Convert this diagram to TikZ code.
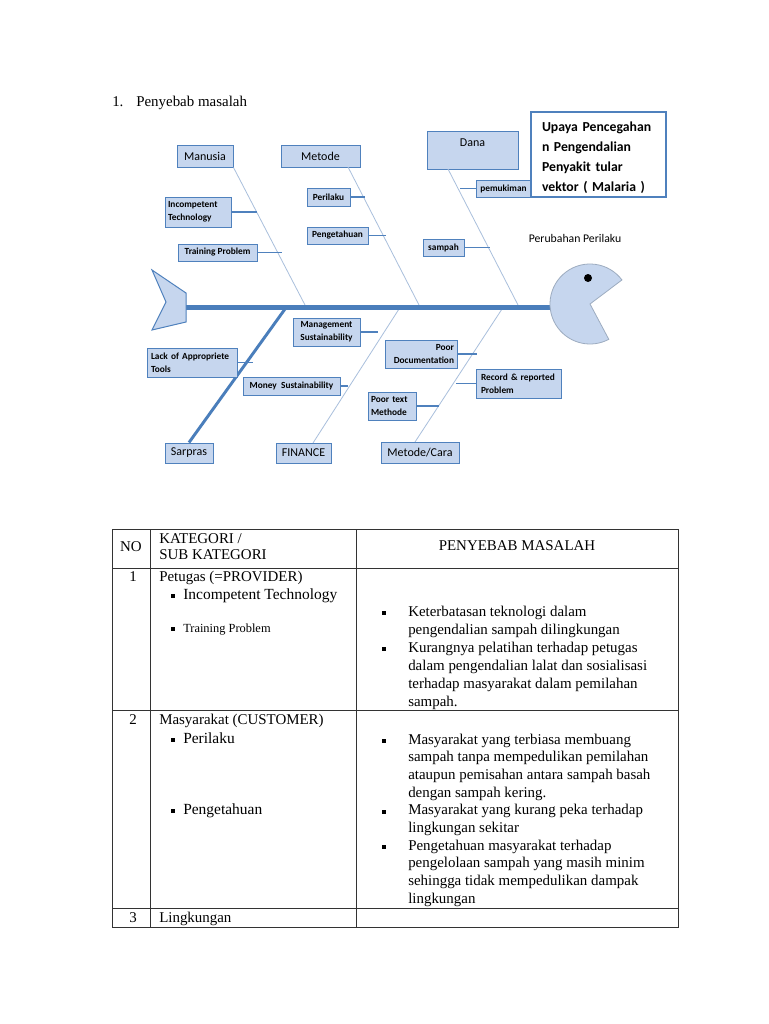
\documentclass[tikz,border=0pt]{standalone}
\usepackage{fontspec}
\setmainfont{Liberation Serif}
\newfontfamily\calfont{Carlito}
\newdimen\pxu \pxu=0.75pt
\definecolor{boxfill}{HTML}{C6D6EE}
\definecolor{boxline}{HTML}{4F81BD}
\definecolor{bonecol}{HTML}{A9BFDC}
\definecolor{spinecol}{HTML}{4A7EBB}
\definecolor{tabline}{HTML}{333333}
\begin{document}
\begin{tikzpicture}[x=0.75pt,y=-0.75pt,
  box/.style={draw=boxline, fill=boxfill, line width=0.75pt, inner sep=0pt, align=center,
    font=\calfont\fontsize{7}{9.75}\selectfont\bfseries},
  catbox/.style={box, font=\calfont\fontsize{9}{11}\selectfont},
  bonethin/.style={draw=bonecol, line width=0.6pt},
  subbone/.style={draw=boxline, line width=1.1pt},
  tt/.style={anchor=base west, inner sep=0pt, font=\fontsize{11.2}{13}\selectfont},
  ttb/.style={tt, font=\fontsize{11.6}{13}\selectfont},
  ttc/.style={tt, anchor=base},
  tabrule/.style={draw=tabline, line width=0.6pt},
  bul/.style={fill=black}
]
\useasboundingbox (0,0) rectangle (768,1024);
\fill[white] (0,0) rectangle (768,1024);

% title
\node[tt] (tnum) at (112,107) {1.};
\node[tt] (title) at (136,107) {Penyebab masalah};

% spine coordinates
\coordinate (tailend) at (186,307);
\coordinate (head) at (590,304);
\coordinate (spineend) at (552,307);
\coordinate (sManusia) at (305,305);
\coordinate (sMetode) at (419,305);
\coordinate (sDana) at (518,305);
\coordinate (sSarpras) at (285,309);
\coordinate (sFinance) at (399,309);
\coordinate (sCara) at (502,309);

% category boxes
\node[catbox, minimum width=56\pxu, minimum height=22\pxu] (manusia) at (205,156) {Manusia};
\node[catbox, minimum width=79\pxu, minimum height=22\pxu] (metode) at (320.5,156) {Metode};
\node[catbox, minimum width=91\pxu, minimum height=38\pxu,
  label={[anchor=north, inner sep=0pt, yshift=-8\pxu, font=\calfont\fontsize{9}{11}\selectfont]north:Dana}] (dana) at (472.5,150) {};
\node[catbox, minimum width=48\pxu, minimum height=20\pxu] (sarpras) at (189,453) {Sarpras};
\node[catbox, minimum width=55\pxu, minimum height=20\pxu] (finance) at (303.5,453) {FINANCE};
\node[catbox, minimum width=78\pxu, minimum height=21\pxu] (metcara) at (420,452.5) {Metode/Cara};

% bone start points
\coordinate (bMetode) at (348,167);
\coordinate (bDana) at (448,169);
\coordinate (bFinance) at (313,443);
\coordinate (bCara) at (415,442);

% thin bones
\draw[bonethin] (manusia.south east) -- (sManusia);
\draw[bonethin] (bMetode) -- (sMetode);
\draw[bonethin] (bDana) -- (sDana);
\draw[bonethin] (bFinance) -- (sFinance);
\draw[bonethin] (bCara) -- (sCara);
% thick Sarpras bone
\draw[draw=spinecol, line width=2.2pt] (sarpras.north) -- (sSarpras);

% spine
\draw[draw=spinecol, line width=3.75pt] (tailend) -- (spineend);

% tail
\filldraw[fill=boxfill, draw=boxline, line width=0.75pt]
  (152,270) -- (186,293) -- (186,322) -- (152,330) -- (166,302) -- cycle;

% head (pacman)
\filldraw[fill=boxfill, draw=bonecol!70!gray, line width=0.6pt]
  (head) -- ([shift={(37:30pt)}]head) arc[start angle=37, end angle=298, radius=30pt] -- cycle;
\fill[black] (588,278) circle[radius=3pt];

% sub-cause boxes
\node[box, minimum width=55\pxu, minimum height=17\pxu] (pemuk) at (503.5,188.5) {pemukiman};
\node[box, minimum width=66\pxu, minimum height=30\pxu, text width=60\pxu, align=left] (inc) at (198,212) {Incompetent\\Technology};
\node[box, minimum width=43\pxu, minimum height=18\pxu] (peril) at (328.5,197) {Perilaku};
\node[box, minimum width=61\pxu, minimum height=17\pxu] (penget) at (337.5,235.5) {Pengetahuan};
\node[box, minimum width=79\pxu, minimum height=17\pxu] (train) at (217.5,252.5) {Training Problem};
\node[box, minimum width=41\pxu, minimum height=17\pxu] (sampah) at (443.5,247.5) {sampah};
\node[box, minimum width=67\pxu, minimum height=28\pxu] (mgmt) at (326.5,332) {Management\\Sustainability};
\node[box, minimum width=90\pxu, minimum height=29\pxu, text width=82\pxu, align=left] (lack) at (192,362.5) {Lack of Appropriete\\Tools};
\node[box, minimum width=97\pxu, minimum height=18\pxu] (money) at (291.5,386) {Money\ \ Sustainability};
\node[box, minimum width=72\pxu, minimum height=28\pxu, text width=66\pxu, align=right] (pdoc) at (421,354) {Poor\\Documentation};
\node[box, minimum width=85\pxu, minimum height=29\pxu, text width=75\pxu, align=left] (rec) at (518.5,383.5) {Record \& reported\\Problem};
\node[box, minimum width=48\pxu, minimum height=28\pxu, text width=42\pxu, align=left] (ptext) at (392,406) {Poor text\\Methode};

% sub bones
\draw[subbone] (inc.east) -- ++(25,0);
\draw[subbone] (train.east) -- ++(24,0);
\draw[subbone] (peril.east) -- ++(14,0);
\draw[subbone] (penget.east) -- ++(17,0);
\draw[subbone] (pemuk.west) -- ++(-16,0);
\draw[subbone] (sampah.east) -- ++(25,0);
\draw[subbone] (mgmt.east) -- ++(17,0);
\draw[subbone] (lack.east) -- ++(15,0);
\draw[subbone] (money.east) -- ++(7,0);
\draw[subbone] (pdoc.east) -- ++(19,0);
\draw[subbone] (rec.west) -- ++(-20,0);
\draw[subbone] (ptext.east) -- ++(22,0);

% effect box
\node[draw=boxline, fill=white, line width=1.8pt, minimum width=135\pxu, minimum height=85\pxu,
  inner sep=0pt, text width=113\pxu, align=left,
  font=\calfont\fontsize{10.3}{15}\selectfont\bfseries] (upaya) at (598.5,154.5)
  {\rule{0pt}{11.5pt}Upaya Pencegahan\\n Pengendalian\\Penyakit tular\\vektor ( Malaria )};
\node[inner sep=0pt, font=\calfont\fontsize{8.8}{10}\selectfont] (perub) at (575,238) {Perubahan Perilaku};

% ---------------- table ----------------
\draw[tabrule] (112,529) rectangle (678,927);
\draw[tabrule] (150,529) -- (150,927);
\draw[tabrule] (356,529) -- (356,927);
\draw[tabrule] (112,568) -- (678,568);
\draw[tabrule] (112,710) -- (678,710);
\draw[tabrule] (112,908) -- (678,908);

% header
\node[ttc] (hno) at (131,551) {NO};
\node[tt] (hkat1) at (159,543) {KATEGORI /};
\node[tt] (hkat2) at (159,559) {SUB KATEGORI};
\node[ttc] (hpen) at (517,550) {PENYEBAB MASALAH};

% row 1
\node[ttc] (n1) at (133,581) {1};
\node[tt] (k1) at (159,581) {Petugas (=PROVIDER)};
\fill[bul] (171,594) rectangle (175,598);
\node[ttb] (k1a) at (183,599) {Incompetent Technology};
\fill[bul] (171,627) rectangle (175,631);
\node[tt, font=\fontsize{9.3}{11}\selectfont] (k1b) at (183,632) {Training Problem};
\fill[bul] (382,611) rectangle (386,615);
\fill[bul] (382,647) rectangle (386,651);
\foreach \t [count=\i] in {Keterbatasan teknologi dalam, pengendalian sampah dilingkungan,
  Kurangnya pelatihan terhadap petugas, dalam pengendalian lalat dan sosialisasi,
  terhadap masyarakat dalam pemilahan, sampah.}
  \node[tt] (ra\i) at (408,598+18*\i) {\t};

% row 2
\node[ttc] (n2) at (133,724) {2};
\node[tt] (k2) at (159,724) {Masyarakat (CUSTOMER)};
\fill[bul] (171,738) rectangle (175,742);
\node[ttb] (k2a) at (183,743) {Perilaku};
\fill[bul] (171,809) rectangle (175,813);
\node[ttb] (k2b) at (183,814) {Pengetahuan};
\fill[bul] (382,739) rectangle (386,743);
\fill[bul] (382,810) rectangle (386,814);
\fill[bul] (382,845) rectangle (386,849);
\foreach \t [count=\i] in {Masyarakat yang terbiasa membuang, sampah tanpa mempedulikan pemilahan,
  ataupun pemisahan antara sampah basah, dengan sampah kering.,
  Masyarakat yang kurang peka terhadap, lingkungan sekitar,
  Pengetahuan masyarakat terhadap, pengelolaan sampah yang masih minim,
  sehingga tidak mempedulikan dampak, lingkungan}
  \node[tt] (rb\i) at (408,726.3+17.7*\i) {\t};

% row 3
\node[ttc] (n3) at (133,922) {3};
\node[tt] (k3) at (159,922) {Lingkungan};
\end{tikzpicture}
\end{document}
